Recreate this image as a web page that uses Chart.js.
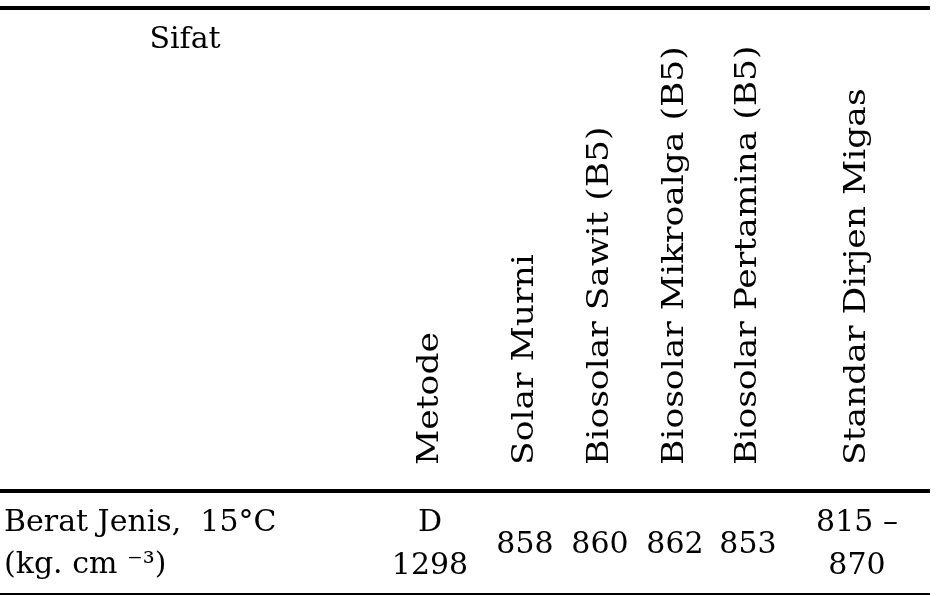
<!DOCTYPE html>
<html>
<head>
<meta charset="utf-8">
<script src="https://cdn.jsdelivr.net/npm/chart.js@4"></script>
<style>
body{margin:0;background:#fff;}
</style>
</head>
<body>
<canvas id="tbl" width="942" height="596"></canvas>
<script>
// table content
const rowHeader="Sifat";
const columns=["Metode","Solar Murni","Biosolar Sawit (B5)","Biosolar Mikroalga (B5)","Biosolar Pertamina (B5)","Standar Dirjen Migas"];
const rowLabel=["Berat Jenis,  15°C","(kg. cm ⁻³)"];
const metode=["D","1298"];
const values=[858,860,862,853];
const standar=["815 –","870"];

const colX=[430,525,600,675,748,857];
const FONT='30px "DejaVu Serif", "Liberation Serif", serif';

const tablePlugin={
id:"tablePlugin",
afterDraw(chart){
const c=chart.ctx;
c.save();
c.fillStyle="#000";c.strokeStyle="#000";
// rules
c.lineWidth=4;
c.beginPath();c.moveTo(0,8);c.lineTo(930,8);c.stroke();
c.beginPath();c.moveTo(0,491);c.lineTo(930,491);c.stroke();
c.lineWidth=2;
c.beginPath();c.moveTo(0,594);c.lineTo(930,594);c.stroke();

c.font=FONT;
c.textBaseline="middle";
c.textAlign="center";
c.fillText(rowHeader,185,40);

// rotated headers, stretched along the text to match the wider face
columns.forEach((t,i)=>{
c.save();
c.translate(colX[i],465);
c.rotate(-Math.PI/2);
c.scale(1.15,1);
c.textAlign="left";
c.fillText(t,0,0);
c.restore();
});

// row
c.textAlign="left";
c.fillText(rowLabel[0],4,523);
c.fillText(rowLabel[1],4,565);
c.textAlign="center";
c.fillText(metode[0],colX[0],523);
c.fillText(metode[1],colX[0],566);
values.forEach((v,i)=>c.fillText(String(v),colX[i+1],545));
c.fillText(standar[0],colX[5],523);
c.fillText(standar[1],colX[5],566);
c.restore();
}
};

new Chart(document.getElementById("tbl"),{
type:"bar",
data:{labels:columns,datasets:[{data:[],backgroundColor:"transparent"}]},
options:{
responsive:false,animation:false,
plugins:{legend:{display:false},tooltip:{enabled:false}},
scales:{x:{display:false},y:{display:false}}
},
plugins:[tablePlugin]
});
</script>
</body>
</html>
